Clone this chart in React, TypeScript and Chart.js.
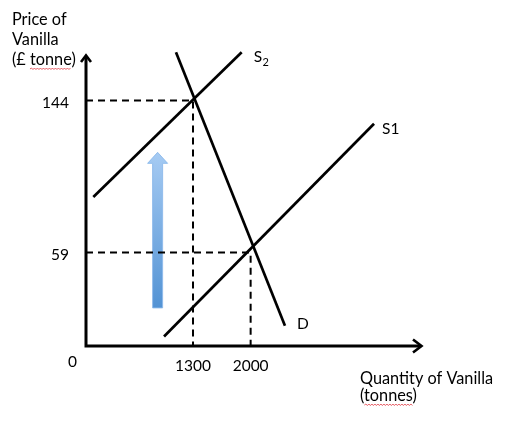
import React, { useEffect, useRef } from "react";
import { Chart, registerables } from "chart.js";

Chart.register(...registerables);

// ---- data ----
const priceTicks = [59, 144];
const quantityTicks = [1300, 2000];
const demandQ = [1093, 2417];
const demandP = [171, 18];
const supply1Q = [948, 3499];
const supply1P = [12, 131];
const supply2Q = [89, 1891];
const supply2P = [90, 171];
const quantityMax = 4094;
const priceMin = 6.7;
const priceMax = 170;
const shiftQ = 870;
const shiftFromP = 28;
const shiftToP = 115;
const yTitle = ["Price of", "Vanilla", "(£ tonne)"];
const xTitle = ["Quantity of Vanilla", "(tonnes)"];
const originLabel = "0";

const FONT = "Lato, 'Open Sans', sans-serif";

const pts = (xs: number[], ys: number[]) => xs.map((v, i) => ({ x: v, y: ys[i] }));

function squiggle(ctx: CanvasRenderingContext2D, x0: number, x1: number, yy: number) {
  ctx.save();
  ctx.strokeStyle = "#e0303a";
  ctx.lineWidth = 0.8;
  ctx.beginPath();
  let up = true;
  ctx.moveTo(x0, yy);
  for (let xx = x0 + 1.5; xx <= x1; xx += 1.5) {
    ctx.lineTo(xx, yy + (up ? -1 : 0.5));
    up = !up;
  }
  ctx.stroke();
  ctx.restore();
}

const decor = {
  id: "decor",
  beforeDatasetsDraw(chart: any) {
    const { ctx, scales } = chart;
    const x = scales.x, y = scales.y;
    const cx = x.getPixelForValue(shiftQ);
    const yb = y.getPixelForValue(shiftFromP);
    const yt = y.getPixelForValue(shiftToP);
    const sw = 5, hw = 10, hh = 11;
    ctx.save();
    const g = ctx.createLinearGradient(0, yt, 0, yb);
    g.addColorStop(0, "#a6cbf3");
    g.addColorStop(1, "#5393d4");
    ctx.beginPath();
    ctx.moveTo(cx, yt);
    ctx.lineTo(cx + hw, yt + hh);
    ctx.lineTo(cx + sw, yt + hh);
    ctx.lineTo(cx + sw, yb);
    ctx.lineTo(cx - sw, yb);
    ctx.lineTo(cx - sw, yt + hh);
    ctx.lineTo(cx - hw, yt + hh);
    ctx.closePath();
    ctx.fillStyle = g;
    ctx.fill();
    ctx.strokeStyle = "rgba(140,185,235,0.9)";
    ctx.lineWidth = 1;
    ctx.stroke();
    ctx.restore();
  },
  afterDatasetsDraw(chart: any) {
    const { ctx, chartArea: a, scales } = chart;
    const x = scales.x, y = scales.y;
    ctx.save();
    ctx.strokeStyle = "#000";
    ctx.lineWidth = 3;
    ctx.lineCap = "butt";
    ctx.beginPath();
    ctx.moveTo(a.left, a.bottom + 1.5);
    ctx.lineTo(a.left, a.top + 2);
    ctx.moveTo(a.left - 1.5, a.bottom);
    ctx.lineTo(a.right - 2, a.bottom);
    ctx.stroke();
    ctx.lineJoin = "miter";
    ctx.lineWidth = 2.6;
    ctx.beginPath();
    ctx.moveTo(a.left - 5, a.top + 8);
    ctx.lineTo(a.left, a.top + 1.5);
    ctx.lineTo(a.left + 5, a.top + 8);
    ctx.moveTo(a.right - 10, a.bottom - 6.5);
    ctx.lineTo(a.right - 1.5, a.bottom);
    ctx.lineTo(a.right - 10, a.bottom + 6.5);
    ctx.stroke();

    // curve labels at the end of each curve
    ctx.fillStyle = "#000";
    ctx.textBaseline = "alphabetic";
    ctx.textAlign = "left";
    ctx.font = `15.5px ${FONT}`;
    const px = (q: number) => x.getPixelForValue(q);
    const py = (p: number) => y.getPixelForValue(p);
    const dEnd = { x: px(demandQ[1]), y: py(demandP[1]) };
    ctx.fillText("D", dEnd.x + 12, dEnd.y + 3);
    const s1End = { x: px(supply1Q[1]), y: py(supply1P[1]) };
    ctx.fillText("S1", s1End.x + 8, s1End.y + 10);
    const s2End = { x: px(supply2Q[1]), y: py(supply2P[1]) };
    ctx.fillText("S", s2End.x + 12, s2End.y + 9.5);
    const sW = ctx.measureText("S").width;
    ctx.font = `11px ${FONT}`;
    ctx.fillText("2", s2End.x + 12 + sW + 0.5, s2End.y + 13.5);

    // origin label
    ctx.font = `15.5px ${FONT}`;
    ctx.textAlign = "center";
    ctx.textBaseline = "middle";
    ctx.fillText(originLabel, a.left - 13.5, a.bottom + 16);

    // axis titles
    ctx.textAlign = "left";
    ctx.textBaseline = "alphabetic";
    ctx.font = `16.3px ${FONT}`;
    yTitle.forEach((t, i) => ctx.fillText(t, 12, 25 + i * 20));
    xTitle.forEach((t, i) => ctx.fillText(t, 360, 384 + i * 17));
    // spell-check underlines
    const w0 = ctx.measureText("(£ ").width;
    const w1 = ctx.measureText("tonne").width;
    squiggle(ctx, 12 + w0, 12 + w0 + w1, 25 + 40 + 4);
    const w2 = ctx.measureText("(").width;
    const w3 = ctx.measureText("tonnes").width;
    squiggle(ctx, 360 + w2, 360 + w2 + w3, 401 + 4);
    ctx.restore();
  },
};

export default function App() {
  const ref = useRef<HTMLCanvasElement | null>(null);
  useEffect(() => {
    if (!ref.current) return;
    const curve = (label: string, data: any[]) => ({
      label,
      data,
      borderColor: "#000",
      borderWidth: 2.7,
      pointRadius: 0,
      fill: false,
      clip: false as any,
      tension: 0,
    });
    const dashed = (q: number, p: number) => ({
      label: "eq",
      data: [
        { x: 0, y: p },
        { x: q, y: p },
        { x: q, y: priceMin },
      ],
      borderColor: "#000",
      borderWidth: 2,
      borderDash: [7, 5],
      pointRadius: 0,
      fill: false,
      clip: false as any,
    });
    const chart = new Chart(ref.current, {
      type: "line",
      data: {
        datasets: [
          dashed(quantityTicks[0], priceTicks[1]),
          dashed(quantityTicks[1], priceTicks[0]),
          curve("D", pts(demandQ, demandP)),
          curve("S1", pts(supply1Q, supply1P)),
          curve("S2", pts(supply2Q, supply2P)),
        ],
      },
      options: {
        animation: false,
        responsive: false,
        devicePixelRatio: 1,
        layout: { padding: { left: 0, top: 54, right: 102, bottom: 0 } },
        plugins: { legend: { display: false }, tooltip: { enabled: false } },
        scales: {
          x: {
            type: "linear",
            min: 0,
            max: quantityMax,
            grid: { display: false, drawTicks: false },
            border: { display: false },
            afterBuildTicks: (s: any) => {
              s.ticks = quantityTicks.map((v) => ({ value: v }));
            },
            afterFit: (s: any) => {
              s.height = 76;
            },
            ticks: {
              padding: 11,
              color: "#000",
              font: { family: FONT, size: 15.5 },
              callback: (v: any) => String(v),
            },
          },
          y: {
            type: "linear",
            min: priceMin,
            max: priceMax,
            grid: { display: false, drawTicks: false },
            border: { display: false },
            afterBuildTicks: (s: any) => {
              s.ticks = priceTicks.map((v) => ({ value: v }));
            },
            afterFit: (s: any) => {
              s.width = 86;
            },
            ticks: {
              padding: 17,
              labelOffset: 3,
              color: "#000",
              font: { family: FONT, size: 15.5 },
              callback: (v: any) => String(v),
            },
          },
        },
      },
      plugins: [decor],
    });
    return () => chart.destroy();
  }, []);
  return (
    <div style={{ position: "absolute", left: 0, top: 0, width: 525, height: 422, background: "#fff" }}>
      <canvas ref={ref} width={525} height={422} style={{ display: "block" }} />
    </div>
  );
}
